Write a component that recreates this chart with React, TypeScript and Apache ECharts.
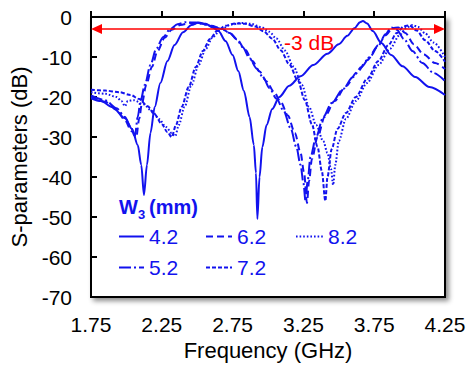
import React, { useEffect, useRef } from "react";
import * as echarts from "echarts";

// ---- axis settings ----
const X_MIN = 1.75;
const X_MAX = 4.25;
const X_STEP = 0.5;
const Y_MIN = -70;
const Y_MAX = 0;
const Y_STEP = 10;

const X_NAME = "Frequency (GHz)";
const Y_NAME = "S-parameters (dB)";
const LEGEND_TITLE_MAIN = "W";
const LEGEND_TITLE_SUB = "3";
const LEGEND_TITLE_UNIT = "(mm)";

// ---- series names (W3 in mm) ----
const names = ["4.2", "5.2", "6.2", "7.2", "8.2"];

// ---- series values: [frequency GHz, S-parameter dB] ----
const s42: [number, number][] = [
  [1.75, -20.3], [1.82, -21], [1.9, -22.5], [1.99, -25.3], [2.04, -28], [2.08, -32],
  [2.105, -37], [2.124, -44.5], [2.145, -37], [2.17, -29], [2.2, -22.5], [2.24, -16.5],
  [2.29, -11], [2.34, -7], [2.4, -3.8], [2.46, -2], [2.51, -1.4], [2.56, -1.7],
  [2.61, -2.6], [2.65, -3.5], [2.7, -6], [2.75, -9.5], [2.79, -13.5], [2.83, -18.5],
  [2.87, -25], [2.9, -32], [2.915, -39], [2.925, -50.5], [2.94, -40], [2.96, -32.5],
  [2.99, -27], [3.03, -23], [3.08, -20], [3.15, -17.2], [3.23, -14.8], [3.32, -12],
  [3.42, -9.2], [3.5, -6.8], [3.56, -4.7], [3.61, -2.8], [3.65, -1.3], [3.67, -1.0],
  [3.7, -1.6], [3.74, -3.5], [3.8, -6.5], [3.87, -9.5], [3.95, -12.3], [4.04, -15],
  [4.14, -17.5], [4.25, -19.5],
];

const s52: [number, number][] = [
  [1.75, -19.6], [1.85, -20.8], [1.93, -22.8], [1.99, -25], [2.03, -27.5], [2.06, -29.8],
  [2.08, -25], [2.1, -21], [2.13, -17], [2.17, -12], [2.21, -8], [2.26, -5],
  [2.31, -3], [2.36, -1.8], [2.42, -1.3], [2.49, -1.4], [2.56, -1.9], [2.63, -2.6],
  [2.68, -3.1], [2.73, -4], [2.78, -5.6], [2.82, -7.5], [2.87, -10.3], [2.92, -12.9],
  [2.97, -15.4], [3.01, -17.8], [3.06, -20.4], [3.11, -23.4], [3.16, -27.8], [3.2, -32.5],
  [3.23, -37], [3.25, -41.5], [3.265, -46], [3.28, -41], [3.3, -35], [3.34, -30],
  [3.39, -25], [3.45, -21.5], [3.53, -18], [3.6, -15], [3.66, -12.5], [3.72, -10],
  [3.78, -7], [3.83, -4.3], [3.87, -2.6], [3.91, -3.2], [3.96, -5.5], [4.02, -8.5],
  [4.09, -11.5], [4.17, -14], [4.25, -16],
];

const s62: [number, number][] = [
  [1.75, -20], [1.85, -21.2], [1.93, -23.2], [1.99, -25.8], [2.035, -28.5], [2.07, -30],
  [2.09, -25.5], [2.11, -21.5], [2.14, -17], [2.18, -12.5], [2.22, -8.5], [2.27, -5.2],
  [2.32, -3.2], [2.38, -2], [2.45, -1.5], [2.52, -1.6], [2.6, -2.2], [2.67, -2.9],
  [2.73, -4], [2.78, -5.5], [2.84, -8.2], [2.89, -11], [2.94, -13.6], [2.99, -16.1],
  [3.04, -18.6], [3.09, -21.2], [3.14, -24.6], [3.19, -29], [3.23, -34], [3.255, -39],
  [3.275, -46.5], [3.29, -41], [3.31, -35.5], [3.35, -30], [3.4, -25], [3.47, -21],
  [3.55, -17.3], [3.63, -13.8], [3.7, -10.8], [3.77, -7.6], [3.83, -4.6], [3.88, -2.8],
  [3.92, -2.6], [3.97, -4], [4.03, -6.8], [4.1, -9.4], [4.18, -11.5], [4.25, -13],
];

const s72: [number, number][] = [
  [1.75, -18.2], [1.85, -18.4], [1.95, -18.8], [2.03, -19.5], [2.09, -20.5], [2.15, -22.3],
  [2.2, -24.4], [2.25, -26.8], [2.29, -28.8], [2.32, -30], [2.35, -27], [2.39, -22.5],
  [2.44, -17.5], [2.49, -12.5], [2.54, -8.5], [2.59, -5.5], [2.64, -3.5], [2.7, -2.2],
  [2.77, -1.6], [2.84, -1.7], [2.91, -2.4], [2.97, -3.6], [3.03, -5.4], [3.09, -8.3],
  [3.15, -11.8], [3.21, -15.8], [3.26, -20.8], [3.31, -26.8], [3.35, -32.5], [3.38, -38.5],
  [3.405, -46], [3.42, -40], [3.45, -33], [3.49, -28], [3.55, -24], [3.62, -20],
  [3.7, -15.5], [3.78, -11], [3.85, -7], [3.91, -4], [3.96, -2.3], [4.0, -2.1],
  [4.05, -3.4], [4.11, -5.8], [4.18, -8.5], [4.25, -11.2],
];

const s82: [number, number][] = [
  [1.75, -18.8], [1.85, -19.2], [1.93, -20], [1.965, -21], [1.99, -22.3], [2.01, -21],
  [2.05, -20.8], [2.12, -21.8], [2.18, -23.5], [2.23, -25.5], [2.28, -27.5], [2.32, -29],
  [2.345, -29.8], [2.37, -27], [2.41, -22.5], [2.46, -17], [2.51, -12], [2.56, -8],
  [2.61, -5], [2.67, -3], [2.74, -1.9], [2.81, -1.5], [2.88, -1.7], [2.95, -2.5],
  [3.01, -3.7], [3.06, -5.4], [3.12, -8.4], [3.18, -12.4], [3.24, -17], [3.29, -22.5],
  [3.34, -27], [3.39, -31], [3.42, -34], [3.445, -38], [3.46, -42], [3.475, -37],
  [3.5, -31], [3.55, -25.5], [3.62, -21], [3.7, -16.5], [3.78, -12], [3.86, -8],
  [3.93, -4.5], [3.98, -2.6], [4.02, -2.0], [4.06, -2.5], [4.11, -4.1], [4.17, -6.4],
  [4.25, -10],
];

const seriesValues = [s42, s52, s62, s72, s82];

// -3 dB reference line and its label
const REF_LEVEL = -3;
const REF_TEXT = "-3 dB";
const REF_TEXT_AT: [number, number] = [3.29, -6.25];

const BLUE = "#1212ee";
const RED = "#ff0000";
const FONT = '"Liberation Sans", Arial, sans-serif';
const dashTypes: any[] = ["solid", [12, 3, 2, 3], [7, 4], [4, 2], [1.6, 2]];

const shift = (d: [number, number][]) => d.map(([f, v]) => [f - X_MIN, v]);

export default function App() {
  const ref = useRef<HTMLDivElement>(null);

  useEffect(() => {
    if (!ref.current) return;
    const chart = echarts.init(ref.current, undefined, { renderer: "svg" });

    const arrowInset = 0.039;
    const series: any[] = names.map((name, i) => ({
      type: "line",
      name,
      data: shift(seriesValues[i]),
      symbol: "none",
      showSymbol: false,
      smooth: 0.3,
      smoothMonotone: "x",
      lineStyle: { color: BLUE, width: 2, type: dashTypes[i], cap: "butt" },
      itemStyle: { color: BLUE },
      z: 3,
    }));

    series[0].markLine = {
      silent: true,
      symbol: ["triangle", "triangle"],
      symbolSize: [10, 11],
      lineStyle: { color: RED, width: 1.5, type: "solid" },
      itemStyle: { color: RED },
      label: { show: false },
      emphasis: { disabled: true },
      data: [
        [
          { coord: [arrowInset, REF_LEVEL] },
          { coord: [X_MAX - X_MIN - arrowInset, REF_LEVEL] },
        ],
      ],
      z: 4,
    };
    series[0].markPoint = {
      silent: true,
      symbol: "circle",
      symbolSize: 1,
      itemStyle: { color: "rgba(0,0,0,0)" },
      label: {
        show: true,
        position: "inside",
        formatter: REF_TEXT,
        color: RED,
        fontSize: 21,
        fontFamily: FONT,
      },
      data: [{ coord: [REF_TEXT_AT[0] - X_MIN, REF_TEXT_AT[1]] }],
    };

    const legendBase = {
      orient: "vertical",
      top: 226,
      itemHeight: 14,
      itemGap: 10,
      padding: 0,
      selectedMode: false,
      itemStyle: { opacity: 0 },
      textStyle: { color: BLUE, fontSize: 21, fontFamily: FONT },
    };

    const titleStyle = { fill: BLUE, fontFamily: FONT, fontWeight: "bold" };

    chart.setOption({
      animation: false,
      grid: {
        left: 91,
        right: 29,
        top: 17,
        bottom: 73,
        show: true,
        backgroundColor: "#fff",
        borderColor: "#000",
        borderWidth: 2,
        shadowColor: "rgba(0,0,0,0.45)",
        shadowBlur: 5,
        shadowOffsetX: 3,
        shadowOffsetY: 3,
      },
      xAxis: {
        type: "value",
        min: 0,
        max: X_MAX - X_MIN,
        interval: X_STEP,
        name: X_NAME,
        nameLocation: "middle",
        nameGap: 42,
        nameTextStyle: { color: "#000", fontSize: 22, fontFamily: FONT },
        axisLine: { show: true, lineStyle: { color: "#000", width: 2 } },
        axisTick: { show: true, inside: true, length: 6, lineStyle: { color: "#000", width: 2 } },
        splitLine: { show: false },
        axisLabel: {
          color: "#000",
          fontSize: 21,
          fontFamily: FONT,
          margin: 17,
          formatter: (v: number) => (v + X_MIN).toFixed(2),
        },
      },
      yAxis: {
        type: "value",
        min: Y_MIN,
        max: Y_MAX,
        interval: Y_STEP,
        name: Y_NAME,
        nameLocation: "middle",
        nameGap: 59,
        nameTextStyle: { color: "#000", fontSize: 22, fontFamily: FONT },
        axisLine: { show: true, lineStyle: { color: "#000", width: 2 } },
        axisTick: { show: true, inside: true, length: 6, lineStyle: { color: "#000", width: 2 } },
        splitLine: { show: false },
        axisLabel: { color: "#000", fontSize: 21, fontFamily: FONT, margin: 19 },
      },
      legend: [
        { ...legendBase, data: [names[0], names[1]], left: 118, itemWidth: 25 },
        { ...legendBase, data: [names[2], names[3]], left: 205, itemWidth: 26 },
        { ...legendBase, data: [names[4]], left: 295, itemWidth: 27 },
      ],
      graphic: [
        {
          type: "text",
          left: 119,
          top: 197,
          z: 10,
          style: { ...titleStyle, text: LEGEND_TITLE_MAIN, fontSize: 20 },
        },
        {
          type: "text",
          left: 138,
          top: 208,
          z: 10,
          style: { ...titleStyle, text: LEGEND_TITLE_SUB, fontSize: 13 },
        },
        {
          type: "text",
          left: 149,
          top: 197,
          z: 10,
          style: { ...titleStyle, text: LEGEND_TITLE_UNIT, fontSize: 20 },
        },
      ],
      series,
    });

    return () => chart.dispose();
  }, []);

  return (
    <div
      ref={ref}
      style={{ position: "fixed", left: 0, top: 0, width: 474, height: 370, background: "#fff" }}
    />
  );
}
